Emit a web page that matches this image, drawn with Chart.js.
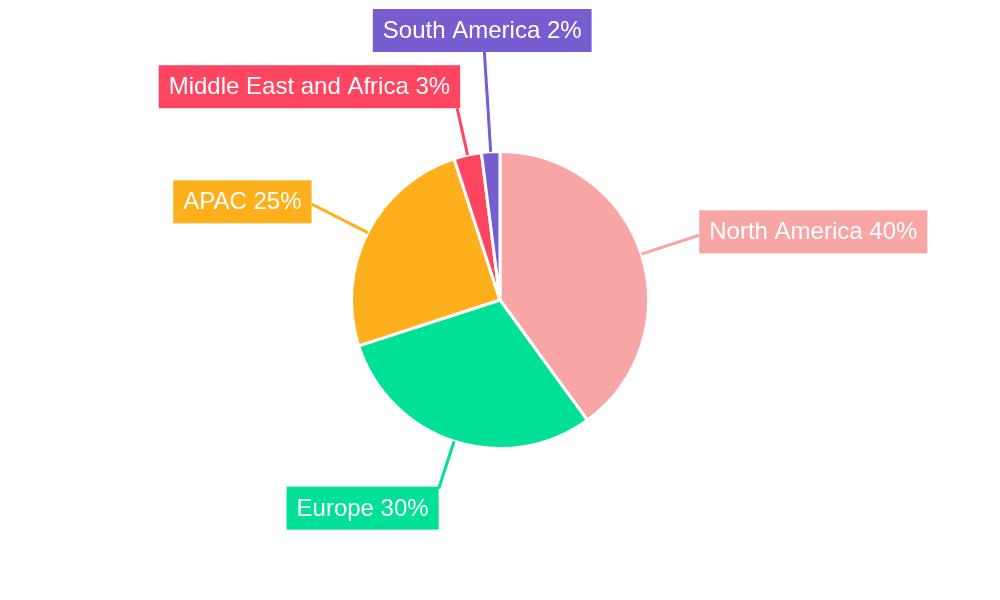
<!DOCTYPE html>
<html>
<head>
<meta charset="utf-8">
<script src="https://cdn.jsdelivr.net/npm/chart.js@4"></script>
<style>
  html, body { margin: 0; padding: 0; background: #fff; }
  #wrap { width: 1000px; height: 600px; }
</style>
</head>
<body>
<div id="wrap"><canvas id="chart"></canvas></div>
<script>
const regions = ["North America", "Europe", "APAC", "Middle East and Africa", "South America"];
const shares = [40, 30, 25, 3, 2];
const colors = ["#f8a5a6", "#00e096", "#fdb01b", "#ff4560", "#775dd0"];

// leader line length and where the line end sits on the label box (fraction of box w/h)
const leaders = [
    { len: 61, ax: 0, ay: 0.58 },
    { len: 50, ax: 1, ay: 0.05 },
    { len: 63, ax: 1, ay: 0.55 },
    { len: 48, ax: 0.99, ay: 1 },
    { len: 100, ax: 0.51, ay: 1 },
];

const calloutPlugin = {
    id: "callouts",
    afterDatasetsDraw(chart) {
        const ctx = chart.ctx;
        const meta = chart.getDatasetMeta(0);
        ctx.save();
        ctx.font = "24px 'Liberation Sans', Arial, sans-serif";
        ctx.textBaseline = "middle";
        meta.data.forEach((arc, i) => {
            const p = arc.getProps(["x", "y", "startAngle", "endAngle", "outerRadius"], true);
            const mid = (p.startAngle + p.endAngle) / 2;
            const r0 = p.outerRadius;
            const r1 = r0 + leaders[i].len;
            const x0 = p.x + Math.cos(mid) * r0;
            const y0 = p.y + Math.sin(mid) * r0;
            const x1 = p.x + Math.cos(mid) * r1;
            const y1 = p.y + Math.sin(mid) * r1;

            ctx.strokeStyle = colors[i];
            ctx.lineWidth = 3;
            ctx.beginPath();
            ctx.moveTo(x0, y0);
            ctx.lineTo(x1, y1);
            ctx.stroke();

            const text = regions[i] + " " + shares[i] + "%";
            const w = ctx.measureText(text).width + 20;
            const h = 43;
            const bx = x1 - leaders[i].ax * w;
            const by = y1 - leaders[i].ay * h;
            ctx.fillStyle = colors[i];
            ctx.fillRect(bx, by, w, h);
            ctx.fillStyle = "#fff";
            ctx.textAlign = "left";
            ctx.fillText(text, bx + 10, by + h / 2 + 1);
        });
        ctx.restore();
    }
};

new Chart(document.getElementById("chart"), {
    type: "pie",
    data: {
        labels: regions,
        datasets: [{
            data: shares,
            backgroundColor: colors,
            borderColor: "#fff",
            borderWidth: 3,
        }],
    },
    options: {
        responsive: true,
        maintainAspectRatio: false,
        animation: false,
        layout: { padding: { top: 150, bottom: 150 } },
        plugins: {
            legend: { display: false },
            tooltip: { enabled: false },
        },
    },
    plugins: [calloutPlugin],
});
</script>
</body>
</html>
